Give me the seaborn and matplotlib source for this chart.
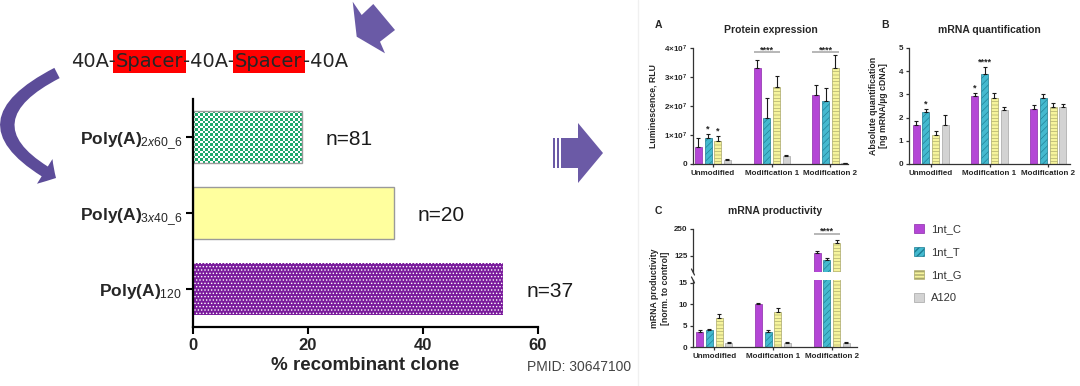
import numpy as np
import pandas as pd
import matplotlib
matplotlib.use('Agg')
import matplotlib.pyplot as plt
import seaborn as sns
from matplotlib.patches import Polygon, Rectangle, FancyArrowPatch, ArrowStyle
from matplotlib.path import Path
from matplotlib.container import BarContainer
from matplotlib.colors import ListedColormap

W, H = 1080, 386

# left panel: share of recombinant clones per poly(A) design
polya_labels = [r'$\mathbf{Poly(A)}_{2x60\_6}$', r'$\mathbf{Poly(A)}_{3x40\_6}$', r'$\mathbf{Poly(A)}_{120}$']
polya_pct = [19, 35, 54]
polya_n = [81, 20, 37]
polya_colors = ['#1fa86c', '#ffff9e', '#7a1b9c']

# right panels
groups = ['Unmodified', 'Modification 1', 'Modification 2']
variants = ['1nt_C', '1nt_T', '1nt_G', 'A120']
var_colors = ['#b446d6', '#43b9cf', '#f6f49c', '#d3d3d3']
var_edges = ['#8b2aa8', '#1d7d93', '#a9a76a', '#a5a5a5']
var_hatches = ['', '/////', '-----', '']

# A: protein expression, units of 1e7 RLU (rows = variants, cols = groups)
prot_mean = [[0.59, 3.31, 2.39], [0.88, 1.60, 2.18], [0.81, 2.64, 3.31], [0.15, 0.26, 0.02]]
prot_sd = [[0.30, 0.29, 0.35], [0.16, 0.66, 0.45], [0.14, 0.41, 0.44], [0.03, 0.06, 0.01]]
prot_stars = [('Unmodified', '1nt_T', '*'), ('Unmodified', '1nt_G', '*')]
prot_brackets = [('Modification 1', '****'), ('Modification 2', '****')]

# B: mRNA quantification, ng mRNA / ug cDNA
mrna_mean = [[1.69, 2.94, 2.39], [2.23, 3.90, 2.83], [1.27, 2.83, 2.47], [1.69, 2.33, 2.47]]
mrna_sd = [[0.18, 0.13, 0.14], [0.13, 0.29, 0.17], [0.16, 0.21, 0.14], [0.42, 0.11, 0.10]]
mrna_stars = [('Unmodified', '1nt_T', '*'), ('Modification 1', '1nt_C', '*'), ('Modification 1', '1nt_T', '****')]

# C: mRNA productivity, normalised to control
prod_mean = [[3.5, 9.9, 137], [4.06, 3.5, 105], [6.64, 8.2, 183], [0.94, 0.94, 0.94]]
prod_sd = [[0.56, 0.4, 11], [0.24, 0.4, 8], [0.96, 0.9, 15], [0.23, 0.16, 0.16]]
prod_brackets = [('Modification 2', '****')]

sns.set_style('ticks')
plt.rcParams['font.family'] = ['Liberation Sans', 'DejaVu Sans']
plt.rcParams['mathtext.fontset'] = 'custom'
plt.rcParams['mathtext.rm'] = 'Liberation Sans'
plt.rcParams['mathtext.it'] = 'Liberation Sans:italic'
plt.rcParams['mathtext.bf'] = 'Liberation Sans:bold'


def px_axes(fig, left, top, right, bottom):
    return fig.add_axes([left / W, 1 - bottom / H, (right - left) / W, (bottom - top) / H])


def hatch_lw(patch, lw):
    if hasattr(patch, 'set_hatch_linewidth'):
        patch.set_hatch_linewidth(lw)


def bars(ax):
    return [c for c in ax.containers if isinstance(c, BarContainer)]


def bar_panel(ax, means, sds):
    df = pd.DataFrame({
        'group': groups * len(variants),
        'variant': [v for v in variants for _ in groups],
        'value': [m for row in means for m in row],
    })
    sns.barplot(data=df, x='group', y='value', hue='variant', order=groups, hue_order=variants,
                palette=var_colors, saturation=1, width=0.66, gap=0.28, errorbar=None,
                legend=False, ax=ax)
    for k, cont in enumerate(bars(ax)):
        for bar, sd in zip(cont, sds[k]):
            bar.set_edgecolor(var_edges[k])
            bar.set_linewidth(0.5)
            bar.set_hatch(var_hatches[k])
            hatch_lw(bar, 0.45)
            cx = bar.get_x() + bar.get_width() / 2
            ax.errorbar(cx, bar.get_height(), yerr=[[0], [sd]], fmt='none', ecolor='#1a1a1a',
                        elinewidth=0.8, capsize=1.6, capthick=0.8, zorder=3)


def style_small(ax, xlim, ylim, yticks, yticklabels):
    sns.despine(ax=ax)
    ax.set_xlim(*xlim)
    ax.set_ylim(*ylim)
    ax.set_yticks(yticks)
    ax.set_yticklabels(yticklabels, fontsize=5.8, fontweight='bold')
    ax.set_xticks(range(len(groups)))
    ax.set_xticklabels(groups, fontsize=5.8, fontweight='bold')
    ax.set_xlabel('')
    ax.set_ylabel('')
    ax.tick_params(length=2.5, width=0.9, pad=1.5, color='#333333')
    for s in ax.spines.values():
        s.set_linewidth(0.9)
        s.set_color('#333333')


def bar_of(ax, group, variant):
    return bars(ax)[variants.index(variant)][groups.index(group)]


def add_star(ax, group, variant, sds, text):
    bar = bar_of(ax, group, variant)
    sd = sds[variants.index(variant)][groups.index(group)]
    ax.annotate(text, xy=(bar.get_x() + bar.get_width() / 2, bar.get_height() + sd),
                xytext=(0, 0.5), textcoords='offset points', ha='center', va='bottom',
                fontsize=6.5, fontweight='bold', color='#222222')


def add_bracket(ax, group, text, level):
    b0 = bar_of(ax, group, '1nt_C')
    b1 = bar_of(ax, group, '1nt_G')
    x0, x1 = b0.get_x(), b1.get_x() + b1.get_width()
    ax.plot([x0, x1], [level, level], color='#aaaaaa', lw=1.2, solid_capstyle='butt')
    ax.annotate(text, xy=((x0 + x1) / 2, level), xytext=(0, -1.5), textcoords='offset points',
                ha='center', va='bottom', fontsize=6.5, fontweight='bold', color='#222222')


fig = plt.figure(figsize=(W / 100, H / 100), dpi=100)

# decorations in pixel coordinates
deco = fig.add_axes([0, 0, 1, 1], zorder=-1)
deco.set_xlim(0, W)
deco.set_ylim(H, 0)
deco.axis('off')
deco.plot([638, 638], [0, H], color='#f0f0f0', lw=1)
deco.add_patch(Polygon([(352.7, 1.7), (361.7, 15), (373.3, 4), (395, 30), (380, 41.7),
                        (385, 53.3), (356.7, 36.7)], closed=True, fc='#6a5aa6', ec='none'))
curve = Path([(57, 73), (-42, 124), (56, 178)], [Path.MOVETO, Path.CURVE3, Path.CURVE3])
deco.add_patch(FancyArrowPatch(path=curve, arrowstyle=ArrowStyle.Simple(head_length=9.4, head_width=21, tail_width=8.3),
                               mutation_scale=1, fc='#5c4c99', ec='none'))
deco.add_patch(Rectangle((553, 138), 2, 30, fc='#6b5aa6', ec='none'))
deco.add_patch(Rectangle((557, 138), 2, 30, fc='#6b5aa6', ec='none'))
deco.add_patch(Polygon([(561, 138), (578, 138), (578, 123), (603, 153), (578, 183), (578, 168), (561, 168)],
                       closed=True, fc='#6b5aa6', ec='none'))

# construct text with red spacers
prev = fig.text(71 / W, 1 - 67 / H, '40A-', fontsize=14, family='DejaVu Sans', va='baseline')
for piece, red in [('Spacer', True), ('-40A-', False), ('Spacer', True), ('-40A', False)]:
    kw = dict(bbox=dict(boxstyle='square,pad=0.12', fc='#ff0000', ec='none')) if red else {}
    prev = deco.annotate(piece, xy=(1, 0), xycoords=prev, fontsize=14, family='DejaVu Sans',
                         va='bottom', ha='left', **kw)

# left bar chart
axL = px_axes(fig, 193, 99, 537.5, 327)
ldf = pd.DataFrame({'construct': polya_labels, 'pct': polya_pct})
sns.barplot(data=ldf, x='pct', y='construct', hue='construct', palette=polya_colors, saturation=1,
            width=0.68, orient='h', legend=False, ax=axL)
axL.set_xlim(0, 60)
ylim_L = axL.get_ylim()
lbars = [c[0] for c in bars(axL)]
lbars[1].set_edgecolor('#9a9a9a')
lbars[1].set_linewidth(1)
lbars[2].set_hatch('.....')
lbars[2].set_edgecolor('white')
lbars[2].set_linewidth(0)
hatch_lw(lbars[2], 0.6)

# checkerboard fill for the top bar, sized from the bar itself
top = lbars[0]
x0, y0, bw, bh = top.get_x(), top.get_y(), top.get_width(), top.get_height()
p0 = axL.transData.transform((x0, y0))
p1 = axL.transData.transform((x0 + bw, y0 + bh))
ncol = max(1, int(round(abs(p1[0] - p0[0]) / 2.5)))
nrow = max(1, int(round(abs(p1[1] - p0[1]) / 2.5)))
checker = np.add.outer(np.arange(nrow), np.arange(ncol)) % 2
axL.imshow(checker, cmap=ListedColormap(['#1fa86c', 'white']), extent=(x0, x0 + bw, y0 + bh, y0),
           aspect='auto', interpolation='nearest', zorder=top.get_zorder() + 0.1)
axL.add_patch(Rectangle(top.get_xy(), bw, bh, fill=False, ec='#9a9a9a', lw=1,
                        zorder=top.get_zorder() + 0.2))
axL.set_xlim(0, 60)
axL.set_ylim(*ylim_L)

for bar, n in zip(lbars, polya_n):
    axL.annotate(f'n={n}', xy=(bar.get_x() + bar.get_width(), bar.get_y() + bar.get_height() / 2),
                 xytext=(17, -2), textcoords='offset points', va='center', ha='left',
                 fontsize=15, color='#1a1a1a')
sns.despine(ax=axL)
axL.set_xticks([0, 20, 40, 60])
axL.set_xticklabels(['0', '20', '40', '60'], fontsize=12, fontweight='bold')
axL.tick_params(axis='y', labelsize=12.5)
axL.tick_params(length=5, width=1.5, pad=3, color='black')
for s in axL.spines.values():
    s.set_linewidth(1.6)
    s.set_color('black')
axL.set_ylabel('')
axL.set_xlabel('% recombinant clone', fontsize=13.5, fontweight='bold', labelpad=3)
fig.text(527 / W, 1 - 367 / H, 'PMID: 30647100', fontsize=10, color='#444444', va='center')

# A: protein expression
axA = px_axes(fig, 693, 48, 848, 164)
bar_panel(axA, prot_mean, prot_sd)
style_small(axA, (-0.34, 2.30), (0, 4), [0, 1, 2, 3, 4],
            ['0'] + [rf'$\mathbf{{{k}{{\times}}10^{{7}}}}$' for k in range(1, 5)])
for g, v, t in prot_stars:
    add_star(axA, g, v, prot_sd, t)
for g, t in prot_brackets:
    add_bracket(axA, g, t, 3.86)
axA.set_title('Protein expression', fontsize=7.5, fontweight='bold', pad=11)
axA.set_ylabel('Luminescence, RLU', fontsize=6.3, fontweight='bold')
axA.yaxis.set_label_coords(-0.226, 0.5)

# B: mRNA quantification
axB = px_axes(fig, 909, 48, 1070, 164)
bar_panel(axB, mrna_mean, mrna_sd)
style_small(axB, (-0.37, 2.37), (0, 5), [0, 1, 2, 3, 4, 5], ['0', '1', '2', '3', '4', '5'])
for g, v, t in mrna_stars:
    add_star(axB, g, v, mrna_sd, t)
axB.set_title('mRNA quantification', fontsize=7.5, fontweight='bold', pad=11)
axB.set_ylabel('Absolute quantification\n[ng mRNA/\u00b5g cDNA]', fontsize=6.3, fontweight='bold')
axB.yaxis.set_label_coords(-0.13, 0.5)

# C: mRNA productivity with broken axis
axCu = px_axes(fig, 693, 229, 857, 272)
axCl = px_axes(fig, 693, 280, 857, 347)
bar_panel(axCu, prod_mean, prod_sd)
bar_panel(axCl, prod_mean, prod_sd)
style_small(axCu, (-0.36, 2.43), (50, 250), [125, 250], ['125', '250'])
style_small(axCl, (-0.36, 2.43), (0, 15.6), [0, 5, 10, 15], ['0', '5', '10', '15'])
axCu.spines['bottom'].set_visible(False)
axCu.tick_params(axis='x', bottom=False, labelbottom=False)
for g, t in prod_brackets:
    add_bracket(axCu, g, t, 227)
axCu.set_title('mRNA productivity', fontsize=7.5, fontweight='bold', pad=10.5)
dx = 3 / 164
axCu.plot([-dx / 2, dx / 2], [3 / 43, -3 / 43], transform=axCu.transAxes, color='#333333', lw=0.9, clip_on=False)
axCl.plot([-dx / 2, dx / 2], [1 + 3 / 67, 1 - 3 / 67], transform=axCl.transAxes, color='#333333', lw=0.9, clip_on=False)
fig.text(660 / W, 1 - 288 / H, 'mRNA productivity\n[norm. to control]', rotation=90, ha='center',
         va='center', fontsize=6.3, fontweight='bold', multialignment='center')

for letter, x, y in [('A', 658, 25), ('B', 885, 25), ('C', 658, 211)]:
    fig.text(x / W, 1 - y / H, letter, fontsize=7.5, fontweight='bold', ha='center', va='center')

fig.legend(handles=bars(axA), labels=variants, loc='upper left',
           bbox_to_anchor=(914 / W, 1 - 224 / H), frameon=False, fontsize=8,
           handlelength=0.9, handleheight=0.9, handletextpad=0.6, labelspacing=1.12,
           borderpad=0, borderaxespad=0, labelcolor='#333333')

fig.savefig('out.png', dpi=100)
